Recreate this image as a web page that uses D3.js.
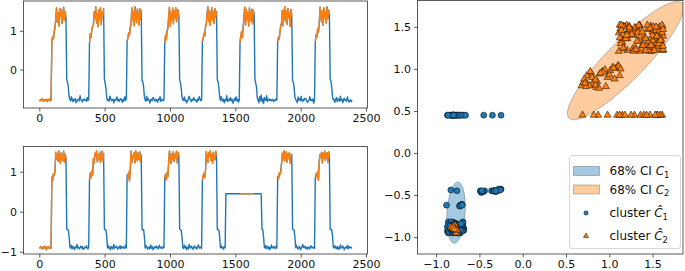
<!DOCTYPE html>
<html><head><meta charset="utf-8">
<script src="https://cdn.jsdelivr.net/npm/d3@7"></script>
<style>body{margin:0;background:#fff}svg{display:block;font-family:"DejaVu Sans",sans-serif}</style>
</head><body><svg id="c" width="685" height="271"></svg>
<script>
// ---------- DATA ----------
const sampleStep = 6; // time units between samples
const seriesTop = [
-0.79,-0.81,-0.77,-0.80,-0.76,-0.82,-0.79,-0.78,-0.81,-0.77,-0.83,-0.78,-0.80,-0.76,-0.81,-0.79,
0.72,0.85,0.79,0.98,1.08,1.31,1.60,1.22,1.47,1.12,1.58,1.36,1.55,1.19,1.43,1.61,1.27,1.50,1.34,
-0.27,-0.33,-0.46,-0.71,
-0.78,-0.81,-0.70,-0.79,-0.83,-0.77,-0.80,-0.75,-0.86,-0.82,-0.78,-0.76,-0.81,-0.68,-0.77,-0.80,-0.84,-0.78,-0.76,-0.80,-0.79,-0.82,-0.72,-0.80,-0.78,
0.68,0.92,0.83,1.04,1.12,1.14,1.49,1.33,1.62,1.20,1.45,1.11,1.54,1.29,1.60,1.16,1.48,1.38,1.57,
-0.25,-0.36,-0.49,-0.73,
-0.80,-0.77,-0.82,-0.69,-0.75,-0.81,-0.79,-0.77,-0.86,-0.78,-0.80,-0.76,-0.71,-0.81,-0.77,-0.82,-0.78,-0.75,-0.80,-0.85,-0.77,-0.81,-0.70,-0.80,-0.76,
0.74,0.81,0.95,0.88,1.10,1.16,1.59,1.28,1.50,1.13,1.62,1.35,1.21,1.56,1.44,1.15,1.58,1.30,1.53,
-0.28,-0.31,-0.44,-0.70,
-0.79,-0.82,-0.69,-0.80,-0.76,-0.78,-0.87,-0.79,-0.77,-0.81,-0.72,-0.75,-0.80,-0.82,-0.77,-0.79,-0.85,-0.76,-0.78,-0.70,-0.83,-0.77,-0.79,-0.81,-0.78,
0.70,0.89,0.77,1.01,1.06,1.37,1.61,1.12,1.46,1.27,1.59,1.18,1.51,1.33,1.60,1.23,1.42,1.55,1.36,
-0.26,-0.34,-0.48,-0.72,
-0.78,-0.80,-0.71,-0.81,-0.79,-0.86,-0.82,-0.78,-0.69,-0.75,-0.79,-0.83,-0.77,-0.80,-0.73,-0.76,-0.81,-0.79,-0.85,-0.77,-0.80,-0.70,-0.76,-0.81,-0.79,
0.73,0.80,0.93,0.86,1.11,1.17,1.45,1.62,1.24,1.52,1.14,1.39,1.60,1.28,1.49,1.19,1.57,1.35,1.50,
-0.27,-0.32,-0.47,-0.71,
-0.80,-0.70,-0.79,-0.82,-0.76,-0.86,-0.78,-0.80,-0.68,-0.83,-0.79,-0.76,-0.80,-0.73,-0.81,-0.77,-0.87,-0.82,-0.75,-0.80,-0.71,-0.81,-0.77,-0.84,-0.80,
0.69,0.87,0.98,0.82,1.09,1.36,1.61,1.15,1.55,1.29,1.47,1.12,1.59,1.40,1.25,1.56,1.18,1.53,1.43,
-0.25,-0.35,-0.45,-0.73,
-0.79,-0.86,-0.70,-0.80,-0.66,-0.83,-0.76,-0.88,-0.72,-0.78,-0.80,-0.68,-0.82,-0.79,-0.76,-0.80,-0.78,-0.81,-0.77,-0.79,-0.83,-0.78,-0.80,-0.76,-0.79,
0.71,0.84,0.78,1.00,1.13,1.21,1.53,1.13,1.44,1.62,1.26,1.51,1.17,1.58,1.32,1.47,1.11,1.55,1.38,
-0.28,-0.33,-0.46,-0.72,
-0.78,-0.80,-0.86,-0.71,-0.79,-0.76,-0.81,-0.69,-0.80,-0.83,-0.77,-0.79,-0.74,-0.76,-0.80,-0.85,-0.82,-0.79,-0.70,-0.80,-0.78,-0.81,-0.76,-0.87,-0.80,
0.72,0.90,0.84,1.05,0.96,1.16,1.61,1.41,1.23,1.52,1.14,1.59,1.34,1.48,1.20,1.62,1.31,1.54,1.42,
-0.26,-0.31,-0.47,-0.70,
-0.79,-0.77,-0.85,-0.78,-0.72,-0.83,-0.76,-0.79,-0.82,-0.69,-0.80,-0.77,-0.86,-0.79,-0.74,-0.80,-0.78,-0.82,-0.71,-0.80,-0.84,-0.81,-0.78,-0.83,-0.80
];
const seriesBottom = [
-0.89,-0.91,-0.87,-0.90,-0.93,-0.88,-0.91,-0.86,-0.90,-0.95,-0.88,-0.90,-0.87,-0.92,-0.89,-0.91,
0.86,0.78,0.95,0.90,1.01,1.49,1.31,1.45,1.26,1.52,1.35,1.21,1.47,1.40,1.29,1.51,1.24,1.44,1.33,
-0.44,-0.45,-0.46,-0.62,
-0.88,-0.91,-0.84,-0.93,-0.87,-0.90,-0.95,-0.88,-0.90,-0.82,-0.91,-0.89,-0.93,-0.90,-0.86,-0.91,-0.87,-0.94,-0.92,-0.89,-0.91,-0.85,-0.90,-0.93,-0.89,
0.80,0.97,0.85,1.02,0.92,1.33,1.21,1.46,1.39,1.52,1.25,1.43,1.30,1.49,1.23,1.41,1.51,1.28,1.45,
-0.43,-0.45,-0.45,-0.63,
-0.90,-0.84,-0.92,-0.89,-0.95,-0.87,-0.90,-0.93,-0.82,-0.91,-0.89,-0.86,-0.90,-0.94,-0.88,-0.91,-0.85,-0.93,-0.87,-0.90,-0.88,-0.92,-0.90,-0.83,-0.91,
0.92,0.83,0.99,0.77,1.04,1.51,1.23,1.40,1.34,1.48,1.22,1.52,1.36,1.27,1.47,1.31,1.50,1.25,1.42,
-0.44,-0.46,-0.45,-0.61,
-0.91,-0.85,-0.87,-0.94,-0.90,-0.88,-0.93,-0.83,-0.91,-0.87,-0.95,-0.92,-0.88,-0.90,-0.86,-0.91,-0.89,-0.93,-0.84,-0.88,-0.91,-0.89,-0.92,-0.87,-0.90,
0.84,0.94,0.80,0.98,0.88,1.24,1.52,1.37,1.21,1.45,1.30,1.50,1.26,1.43,1.35,1.51,1.22,1.48,1.39,
-0.43,-0.45,-0.47,-0.62,
-0.89,-0.92,-0.84,-0.90,-0.87,-0.95,-0.89,-0.93,-0.82,-0.88,-0.91,-0.86,-0.90,-0.94,-0.89,-0.85,-0.91,-0.90,-0.93,-0.87,-0.83,-0.91,-0.88,-0.90,-0.92,
0.79,0.90,0.96,0.85,1.03,1.50,1.33,1.23,1.47,1.38,1.52,1.28,1.44,1.21,1.49,1.36,1.30,1.51,1.40,
-0.44,-0.45,-0.46,-0.62,
-0.90,-0.85,-0.91,-0.89,-0.94,-0.87,-0.90,
0.45,0.45,0.45,0.45,0.45,0.45,0.45,0.45,0.45,0.45,0.45,0.45,0.45,0.45,0.45,0.45,0.45,0.45,0.45,0.45,0.45,0.45,0.45,
0.45,0.45,0.45,0.45,0.45,0.45,0.45,0.45,0.45,0.45,0.45,0.45,0.45,0.45,0.45,0.45,0.45,0.45,0.45,0.45,0.45,0.45,0.45,
-0.44,-0.45,-0.62,
-0.89,-0.91,-0.84,-0.92,-0.90,-0.87,-0.95,-0.89,-0.93,-0.83,-0.90,-0.91,-0.87,-0.90,-0.92,-0.86,-0.91,
0.88,0.81,0.97,0.93,1.00,1.22,1.46,1.30,1.52,1.27,1.41,1.50,1.24,1.45,1.33,1.48,1.21,1.39,1.44,
-0.43,-0.45,-0.46,-0.63,
-0.90,-0.84,-0.91,-0.93,-0.89,-0.87,-0.95,-0.92,-0.88,-0.82,-0.89,-0.90,-0.86,-0.92,-0.89,-0.94,-0.88,-0.90,-0.93,-0.85,-0.87,-0.91,-0.90,-0.88,-0.92,
0.83,0.95,0.87,1.01,0.79,1.25,1.43,1.37,1.49,1.22,1.46,1.34,1.52,1.28,1.40,1.47,1.23,1.50,1.36,
-0.44,-0.45,-0.45,-0.62,
-0.89,-0.91,-0.85,-0.90,-0.92,-0.87,-0.94,-0.89,-0.93,-0.83,-0.91,-0.90,-0.86,-0.89,-0.95,-0.90,-0.88,-0.91,-0.84,-0.93,-0.87,-0.90,-0.88,-0.91,-0.90
];
// time spans (inclusive) assigned to cluster C2
const cluster2Spans = [[0,204],[384,492],[672,780],[960,1068],[1248,1356],[1536,1644],[1824,1932],[2112,2220]];
const timeTicks = [0,500,1000,1500,2000,2500];
const topYTicks = [0,1];
const bottomYTicks = [-1,0,1];
const scatterTicks = [-1.0,-0.5,0.0,0.5,1.0,1.5];
// 68% confidence ellipses (data units): centre, semi-axes, rotation (deg)
const ciCenters = [[-0.77,-0.71],[1.187,1.098]];
const ciSemiAxes = [[0.365,0.105],[0.945,0.225]];
const ciAngles = [86.5,46.5];
const legendLabels = ["68% CI ","68% CI ","cluster ","cluster "];
const legendMath = ["C","C","\u0108","\u0108"];
const legendSubs = ["1","2","1","2"];

// ---------- DRAW ----------
const C1 = "#1f77b4", C2 = "#ff7f0e";
const svg = d3.select("#c");
const FONT = "DejaVu Sans";
const TICK_FS = 11, LEG_FS = 12;
const n = Math.min(seriesTop.length, seriesBottom.length);
const pts = d3.range(n).map(i => {
  const t = i * sampleStep;
  const c = cluster2Spans.some(s => t >= s[0] && t <= s[1]) ? 2 : 1;
  return {t, a: seriesTop[i], b: seriesBottom[i], c};
});

function styleAxis(g){
  g.attr("font-family", FONT).attr("font-size", TICK_FS);
  g.select(".domain").remove();
  g.selectAll(".tick line").attr("stroke", "#333").attr("stroke-width", 0.8);
  g.selectAll(".tick text").attr("fill", "#111");
}
function frame(x0, y0, x1, y1){
  svg.append("rect").attr("x", x0).attr("y", y0).attr("width", x1 - x0).attr("height", y1 - y0)
    .attr("fill", "none").attr("stroke", "#333").attr("stroke-width", 0.8);
}
let clipId = 0;
function clip(x0, y0, x1, y1){
  const id = "clip" + (clipId++);
  svg.append("clipPath").attr("id", id).append("rect")
    .attr("x", x0).attr("y", y0).attr("width", x1 - x0).attr("height", y1 - y0);
  return "url(#" + id + ")";
}

function timePanel(y0, y1, yDom, yTicks, key){
  const L = 23.5, R = 367.5;
  const x = d3.scaleLinear().domain([-121, 2511.5]).range([L, R]);
  const y = d3.scaleLinear().domain(yDom).range([y1, y0]);
  const cp = clip(L, y0, R, y1);
  const g = svg.append("g").attr("clip-path", cp);
  const line = d3.line().x(d => x(d.t)).y(d => y(d[key]));
  g.append("path").datum(pts).attr("d", line).attr("fill", "none")
    .attr("stroke", C1).attr("stroke-width", 1.4).attr("stroke-linejoin", "round");
  g.append("path").datum(pts).attr("d", line.defined(d => d.c === 2)).attr("fill", "none")
    .attr("stroke", C2).attr("stroke-width", 1.4).attr("stroke-linejoin", "round");
  svg.append("g").attr("transform", `translate(0,${y1})`)
    .call(d3.axisBottom(x).tickValues(timeTicks).tickFormat(d3.format("d")).tickSize(3.5).tickPadding(3))
    .call(styleAxis);
  svg.append("g").attr("transform", `translate(${L},0)`)
    .call(d3.axisLeft(y).tickValues(yTicks).tickFormat(d3.format("d")).tickSize(3.5).tickPadding(3))
    .call(styleAxis);
  frame(L, y0, R, y1);
}
timePanel(1, 108, [-0.995, 1.77], topYTicks, "a");
timePanel(146.5, 254, [-1.0575, 1.63], bottomYTicks, "b");

// scatter panel
const SL = 417.5, SR = 683, ST = 0.5, SB = 254;
const sx = d3.scaleLinear().domain([-1.215, 1.851]).range([SL, SR]);
const sy = d3.scaleLinear().domain([-1.201, 1.8135]).range([SB, ST]);
const scp = clip(SL, ST, SR, SB);
const sg = svg.append("g").attr("clip-path", scp);
const colors = [C1, C2];
ciCenters.forEach((c, k) => {
  const [a, b] = ciSemiAxes[k];
  const th = ciAngles[k] * Math.PI / 180;
  const ring = d3.range(0, 361, 3).map(deg => {
    const p = deg * Math.PI / 180;
    const u = a * Math.cos(p), v = b * Math.sin(p);
    return [c[0] + u * Math.cos(th) - v * Math.sin(th), c[1] + u * Math.sin(th) + v * Math.cos(th)];
  });
  sg.append("path").attr("d", d3.line().x(d => sx(d[0])).y(d => sy(d[1]))(ring) + "Z")
    .attr("fill", colors[k]).attr("fill-opacity", 0.4)
    .attr("stroke", "#000").attr("stroke-opacity", 0.3).attr("stroke-width", 0.8);
});
const circ = d3.symbol().type(d3.symbolCircle).size(28);
const tri = d3.symbol().type(d3.symbolTriangle).size(22);
sg.selectAll("path.c1").data(pts.filter(d => d.c === 1)).join("path").attr("class", "c1")
  .attr("transform", d => `translate(${sx(d.a)},${sy(d.b)})`).attr("d", circ)
  .attr("fill", C1).attr("stroke", "#000").attr("stroke-width", 0.5);
sg.selectAll("path.c2").data(pts.filter(d => d.c === 2)).join("path").attr("class", "c2")
  .attr("transform", d => `translate(${sx(d.a)},${sy(d.b)})`).attr("d", tri)
  .attr("fill", C2).attr("stroke", "#000").attr("stroke-width", 0.5);
svg.append("g").attr("transform", `translate(0,${SB})`)
  .call(d3.axisBottom(sx).tickValues(scatterTicks).tickFormat(d3.format(".1f")).tickSize(3.5).tickPadding(3))
  .call(styleAxis);
svg.append("g").attr("transform", `translate(${SL},0)`)
  .call(d3.axisLeft(sy).tickValues(scatterTicks).tickFormat(d3.format(".1f")).tickSize(3.5).tickPadding(3))
  .call(styleAxis);
frame(SL, ST, SR, SB);

// legend
const lg = svg.append("g").attr("font-family", FONT).attr("font-size", LEG_FS);
lg.append("rect").attr("x", 569.5).attr("y", 155.5).attr("width", 111).attr("height", 93).attr("rx", 2.5)
  .attr("fill", "#fff").attr("fill-opacity", 0.8).attr("stroke", "#ccc").attr("stroke-width", 0.8);
const rowY = [171, 189.5, 213, 236];
rowY.forEach((ry, k) => {
  if (k < 2) {
    lg.append("rect").attr("x", 573.5).attr("y", ry - 4.5).attr("width", 26).attr("height", 9)
      .attr("fill", colors[k]).attr("fill-opacity", 0.4).attr("stroke", "#000").attr("stroke-opacity", 0.3).attr("stroke-width", 0.8);
  } else {
    lg.append("path").attr("transform", `translate(586,${ry})`)
      .attr("d", (k === 2 ? d3.symbol().type(d3.symbolCircle).size(14) : d3.symbol().type(d3.symbolTriangle).size(11))())
      .attr("fill", colors[k - 2]).attr("stroke", "#000").attr("stroke-width", 0.5);
  }
  const t = lg.append("text").attr("x", 609.5).attr("y", ry + 4.2).attr("fill", "#111");
  t.append("tspan").text(legendLabels[k]);
  t.append("tspan").attr("font-style", "italic").text(legendMath[k]);
  t.append("tspan").attr("font-size", 8.4).attr("dy", 2.4).text(legendSubs[k]);
});
</script></body></html>
